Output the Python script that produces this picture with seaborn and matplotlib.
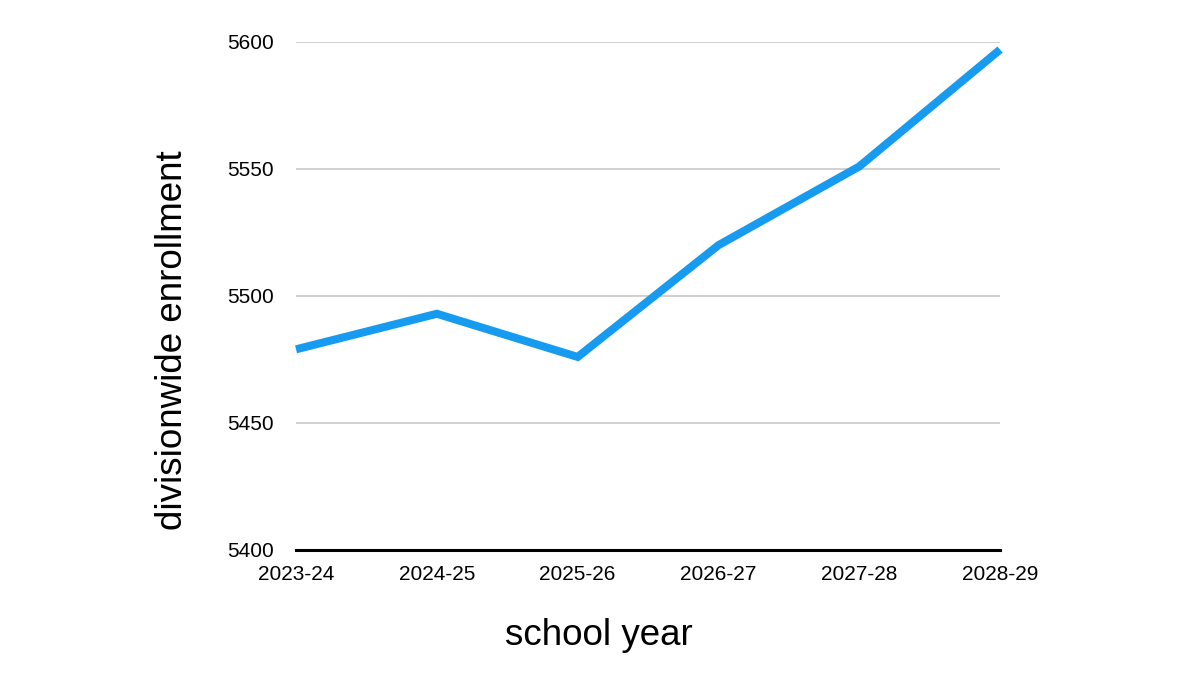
import matplotlib
matplotlib.use('Agg')
import matplotlib.pyplot as plt
import pandas as pd
import seaborn as sns

school_years = ['2023-24', '2024-25', '2025-26', '2026-27', '2027-28', '2028-29']
enrollment = [5479, 5493, 5476, 5520, 5551, 5597]

sns.set_theme(style='white')
plt.rcParams['font.family'] = ['Liberation Sans', 'DejaVu Sans']

df = pd.DataFrame({'school year': school_years, 'divisionwide enrollment': enrollment})

fig = plt.figure(figsize=(12, 6.75), dpi=100)
ax = fig.add_axes([0.2467, 0.1852, 0.5867, 0.7526])

sns.lineplot(data=df, x='school year', y='divisionwide enrollment', color='#179bf0',
             linewidth=5.8, ax=ax, solid_capstyle='butt', solid_joinstyle='miter',
             clip_on=False)

ax.set_ylim(5400, 5600)
ax.set_xlim(0, len(school_years) - 1)
ax.set_yticks([5400, 5450, 5500, 5550, 5600])
ax.yaxis.grid(True, color='#d0d0d0', linewidth=1.4)
ax.xaxis.grid(False)
for side in ['top', 'right', 'left']:
    ax.spines[side].set_visible(False)
ax.spines['bottom'].set_color('black')
ax.spines['bottom'].set_linewidth(2.2)
ax.tick_params(axis='y', labelsize=15, pad=16, length=0, colors='black')
ax.tick_params(axis='x', labelsize=15, pad=11, length=0, colors='black')

# axis titles are centred on the figure, not on the plot area
ax.set_xlabel('school year', fontsize=26.5, va='center', color='black')
ax.set_ylabel('divisionwide enrollment', fontsize=26.5, va='center', color='black')
ax.xaxis.set_label_coords(0.43, -0.168)
ax.yaxis.set_label_coords(-0.176, 0.413)

fig.savefig('out.png', dpi=100)
